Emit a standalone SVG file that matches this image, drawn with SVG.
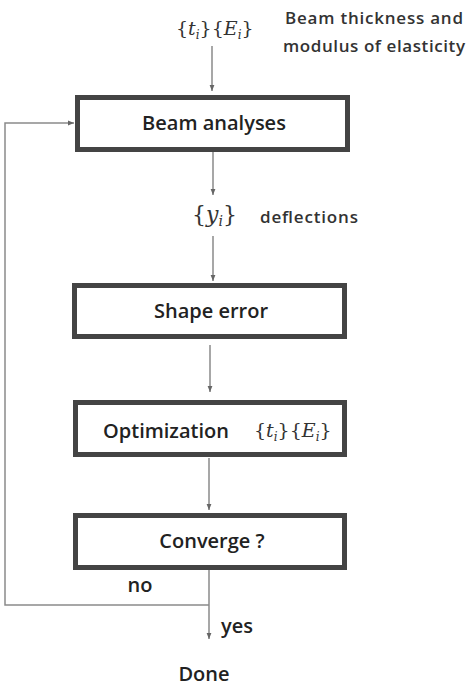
<svg xmlns="http://www.w3.org/2000/svg" width="474" height="694" viewBox="0 0 474 694">
<style>
.box{fill:#fff;stroke:#444;stroke-width:5}
.lbl{font-family:"Open Sans","Liberation Sans",sans-serif;font-weight:600;font-size:20px;fill:#222;text-anchor:middle}
.note{font-family:"Open Sans","Liberation Sans",sans-serif;font-weight:600;font-size:17px;fill:#333}
.math{font-family:"DejaVu Serif","Liberation Serif",serif;font-size:19px;fill:#333}
.it{font-style:italic}
.sub{font-size:12px;font-style:italic}
.con{fill:none;stroke:#8a8a8a;stroke-width:1.5}
</style>
<defs>
<marker id="ah" viewBox="0 0 10 10" refX="10" refY="5" markerWidth="6" markerHeight="6" orient="auto" markerUnits="userSpaceOnUse">
<path d="M0,1 L10,5 L0,9 z" fill="#666"/>
</marker>
</defs>
<rect width="474" height="694" fill="#fff"/>
<g id="connectors">
<line class="con" x1="212" y1="46" x2="212" y2="91" marker-end="url(#ah)"/>
<line class="con" x1="213" y1="152" x2="213" y2="195" marker-end="url(#ah)"/>
<line class="con" x1="213" y1="236" x2="213" y2="281" marker-end="url(#ah)"/>
<line class="con" x1="210" y1="345" x2="210" y2="392" marker-end="url(#ah)"/>
<line class="con" x1="209" y1="458" x2="209" y2="510" marker-end="url(#ah)"/>
<line class="con" x1="209" y1="570" x2="209" y2="639" marker-end="url(#ah)"/>
<polyline class="con" points="209,605 5,605 5,123 74,123" marker-end="url(#ah)"/>
</g>
<g id="input">
<text class="math" x="176" y="35">{<tspan class="it">t</tspan><tspan class="sub" dy="4">i</tspan><tspan dy="-4">}{</tspan><tspan class="it">E</tspan><tspan class="sub" dy="4">i</tspan><tspan dy="-4">}</tspan></text>
<text class="note" x="285" y="24" textLength="178">Beam thickness and</text>
<text class="note" x="283" y="52" textLength="182">modulus of elasticity</text>
</g>
<g id="beam">
<rect class="box" x="77.5" y="97.5" width="270" height="52"/>
<text class="lbl" x="214" y="130">Beam analyses</text>
</g>
<g id="deflections">
<text class="math" x="192" y="222" style="font-size:22px">{<tspan class="it">y</tspan><tspan class="sub" dy="4" style="font-size:14px">i</tspan><tspan dy="-4">}</tspan></text>
<text class="note" x="260" y="223" textLength="98">deflections</text>
</g>
<g id="shape">
<rect class="box" x="74.5" y="285.5" width="270" height="51"/>
<text class="lbl" x="211" y="318">Shape error</text>
</g>
<g id="optimization">
<rect class="box" x="75.5" y="402.5" width="269" height="52"/>
<text class="lbl" x="166" y="438">Optimization</text>
<text class="math" x="254" y="437">{<tspan class="it">t</tspan><tspan class="sub" dy="4">i</tspan><tspan dy="-4">}{</tspan><tspan class="it">E</tspan><tspan class="sub" dy="4">i</tspan><tspan dy="-4">}</tspan></text>
</g>
<g id="converge">
<rect class="box" x="75.5" y="515.5" width="269" height="52"/>
<text class="lbl" x="212" y="548">Converge ?</text>
</g>
<g id="labels">
<text class="lbl" x="140" y="592">no</text>
<text class="lbl" x="237" y="633">yes</text>
</g>
<g id="done">
<text class="lbl" x="204" y="681">Done</text>
</g>
</svg>
